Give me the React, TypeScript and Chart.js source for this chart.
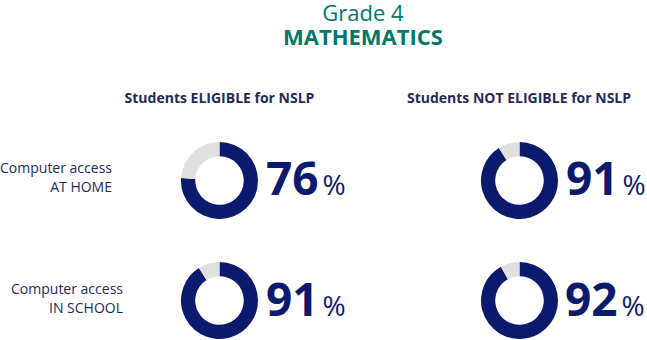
import React, { useEffect, useRef } from "react";
import { Chart, registerables } from "chart.js";

Chart.register(...registerables);

const titleLine1 = "Grade 4";
const titleLine2 = "MATHEMATICS";
const columnHeaders = ["Students ELIGIBLE for NSLP", "Students NOT ELIGIBLE for NSLP"];
const rowLabelsLine1 = ["Computer access", "Computer access"];
const rowLabelsLine2 = ["AT HOME", "IN SCHOOL"];
const eligibleValues = [76, 91];
const notEligibleValues = [91, 92];

const NAVY = "#0c1a6e";
const GRAY = "#e0e0e0";
const GREEN = "#00786a";
const LABEL = "#1e2a5e";
const FONT = "'Open Sans', sans-serif";

function Donut({ value, left, top, size }: { value: number; left: number; top: number; size: number }) {
  const ref = useRef<HTMLCanvasElement | null>(null);
  useEffect(() => {
    if (!ref.current) return;
    const chart = new Chart(ref.current, {
      type: "doughnut",
      data: {
        labels: ["Yes", "No"],
        datasets: [
          {
            data: [value, 100 - value],
            backgroundColor: [NAVY, GRAY],
            borderWidth: 0,
          },
        ],
      },
      options: {
        responsive: false,
        animation: false,
        cutout: "63%",
        layout: { padding: 0 },
        plugins: { legend: { display: false }, tooltip: { enabled: false } },
        events: [],
      },
    });
    return () => chart.destroy();
  }, [value]);
  return (
    <canvas
      ref={ref}
      width={size}
      height={size}
      style={{ position: "absolute", left, top, width: size, height: size }}
    />
  );
}

function Pct({ value, left, baseline }: { value: number; left: number; baseline: number }) {
  return (
    <div
      style={{
        position: "absolute",
        left,
        top: baseline - 41,
        fontFamily: FONT,
        color: NAVY,
        lineHeight: "46px",
        whiteSpace: "nowrap",
      }}
    >
      <span style={{ fontSize: 46, fontWeight: 700 }}>{value}</span>
      <span style={{ fontSize: 28, fontWeight: 400, marginLeft: 4 }}>%</span>
    </div>
  );
}

export default function App() {
  const centersX = [219.5, 519];
  const centersY = [180, 300.5];
  const size = 77;
  const values = [eligibleValues, notEligibleValues];
  const pctLeft = [[266, 266], [566, 565]];
  const baselines = [195, 316];
  const labelRight = [112, 123];
  return (
    <div
      style={{
        position: "absolute",
        left: 0,
        top: 0,
        width: 647,
        height: 340,
        background: "#fff",
        overflow: "hidden",
        fontFamily: FONT,
      }}
    >
      <div
        style={{
          position: "absolute",
          left: 0,
          width: 726,
          top: 0,
          textAlign: "center",
          color: GREEN,
          fontSize: 22,
          lineHeight: "24px",
        }}
      >
        <div>{titleLine1}</div>
        <div style={{ fontWeight: 700 }}>{titleLine2}</div>
      </div>
      {columnHeaders.map((h, i) => (
        <div
          key={h}
          style={{
            position: "absolute",
            left: centersX[i] - 150,
            width: 300,
            top: 89,
            textAlign: "center",
            color: LABEL,
            fontSize: 14,
            fontWeight: 700,
            lineHeight: "18px",
          }}
        >
          {h}
        </div>
      ))}
      {rowLabelsLine1.map((l, r) => (
        <div
          key={r}
          style={{
            position: "absolute",
            left: 0,
            width: labelRight[r],
            top: centersY[r] - 22,
            textAlign: "right",
            color: LABEL,
            fontSize: 14,
            lineHeight: "19px",
          }}
        >
          <div>{l}</div>
          <div>{rowLabelsLine2[r]}</div>
        </div>
      ))}
      {values.map((col, c) =>
        col.map((v, r) => (
          <React.Fragment key={`${c}-${r}`}>
            <Donut value={v} left={centersX[c] - size / 2} top={centersY[r] - size / 2} size={size} />
            <Pct value={v} left={pctLeft[c][r]} baseline={baselines[r]} />
          </React.Fragment>
        ))
      )}
    </div>
  );
}
